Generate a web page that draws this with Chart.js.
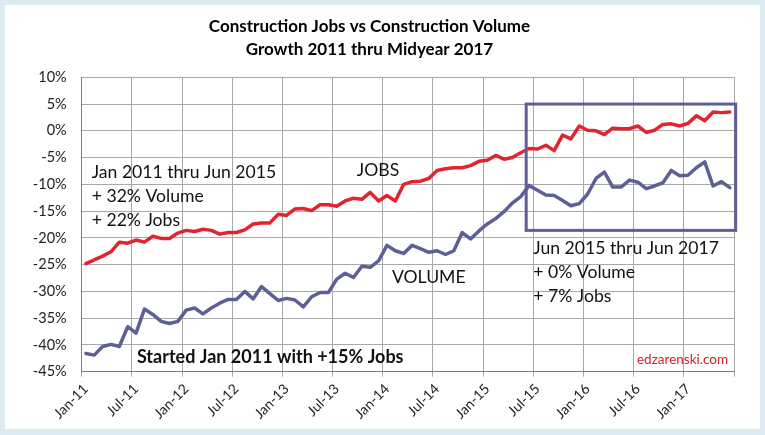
<!DOCTYPE html>
<html>
<head>
<meta charset="utf-8">
<script src="https://cdn.jsdelivr.net/npm/chart.js@4.4.1/dist/chart.umd.min.js"></script>
<style>
  html, body { margin: 0; padding: 0; background: #dcebf2; }
  #wrap { position: absolute; left: 5px; top: 5px; width: 755px; height: 424px; background: #fff; }
</style>
</head>
<body>
<div id="wrap"><canvas id="jobsChart" width="755" height="424"></canvas></div>
<script>
// categorias: meses Jan-11 .. Jun-17
const monthNames = ['Jan', 'Feb', 'Mar', 'Apr', 'May', 'Jun', 'Jul', 'Aug', 'Sep', 'Oct', 'Nov', 'Dec'];
const years = ['11', '12', '13', '14', '15', '16', '17'];
const labels = [];
years.forEach(function(y) {
    monthNames.forEach(function(m) {
        if (labels.length < 78) labels.push(m + '-' + y);
    });
});

// JOBS (rojo) y VOLUME (morado), % de crecimiento
const jobs = [
    -24.8, -24.1, -23.4, -22.6, -20.8, -21.0, -20.4, -20.8, -19.7, -20.1, -20.1, -19.1,
    -18.6, -18.8, -18.4, -18.6, -19.3, -19.0, -19.0, -18.5, -17.4, -17.2, -17.2, -15.6,
    -15.8, -14.6, -14.5, -14.9, -13.8, -13.8, -14.1, -13.1, -12.6, -12.8, -11.5, -13.1,
    -12.1, -13.1, -10.0, -9.5, -9.4, -8.9, -7.4, -7.1, -6.9, -6.9, -6.5, -5.7,
    -5.5, -4.6, -5.3, -5.0, -4.1, -3.3, -3.4, -2.7, -3.7, -0.8, -1.5, 0.9,
    0.1, 0.0, -0.7, 0.5, 0.4, 0.4, 0.9, -0.3, 0.1, 1.2, 1.3, 0.9,
    1.4, 2.8, 1.9, 3.5, 3.4, 3.5
];
const volume = [
    -41.6, -41.9, -40.3, -39.9, -40.3, -36.6, -37.8, -33.3, -34.3, -35.6, -36.0, -35.6,
    -33.5, -33.1, -34.2, -33.1, -32.2, -31.5, -31.5, -30.0, -31.4, -29.1, -30.4, -31.7,
    -31.3, -31.6, -32.9, -31.0, -30.2, -30.2, -27.7, -26.6, -27.4, -25.3, -25.5, -24.3,
    -21.4, -22.4, -22.9, -21.4, -22.0, -22.7, -22.4, -23.1, -22.4, -19.0, -20.2, -18.7,
    -17.4, -16.4, -15.1, -13.5, -12.3, -10.2, -11.1, -12.0, -12.1, -13.0, -14.0, -13.6,
    -11.8, -8.9, -7.7, -10.5, -10.5, -9.2, -9.6, -10.8, -10.3, -9.7, -7.4, -8.4,
    -8.3, -6.9, -5.8, -10.3, -9.5, -10.6
];

// eje Y
const yMin = -45, yMax = 10, yStep = 5;

// notas de texto (posición en índice de mes / valor %)
const notes = [
    { text: 'Jan 2011 thru Jun 2015', x: 0.7, y: -7.8 },
    { text: '+ 32% Volume', x: 0.7, y: -12.3 },
    { text: '+ 22% Jobs', x: 0.7, y: -16.8 },
    { text: 'JOBS', x: 32.4, y: -7.4 },
    { text: 'VOLUME', x: 36.6, y: -27.4 },
    { text: 'Jun 2015 thru Jun 2017', x: 53.5, y: -22.0 },
    { text: '+ 0% Volume', x: 53.5, y: -26.5 },
    { text: '+ 7% Jobs', x: 53.5, y: -30.9 },
    { text: 'Started Jan 2011 with +15% Jobs', x: 6.1, y: -42.2, font: 'bold 18px Lato' },
    { text: 'edzarenski.com', x: 65.9, y: -42.8, font: '13.5px Lato', color: '#d0202a' }
];
const box = { x0: 52.65, x1: 77.7, y0: 5.0, y1: -18.6 };

const notesPlugin = {
    id: 'notes',
    afterDraw(chart) {
        const ctx = chart.ctx;
        const xs = chart.scales.x, ys = chart.scales.y;
        ctx.save();
        // recuadro
        ctx.strokeStyle = '#5f5f98';
        ctx.lineWidth = 3;
        ctx.strokeRect(xs.getPixelForValue(box.x0), ys.getPixelForValue(box.y0),
            xs.getPixelForValue(box.x1) - xs.getPixelForValue(box.x0),
            ys.getPixelForValue(box.y1) - ys.getPixelForValue(box.y0));
        ctx.textBaseline = 'middle';
        ctx.textAlign = 'left';
        notes.forEach(function(n) {
            ctx.font = n.font || '17.6px Lato';
            ctx.fillStyle = n.color || '#111';
            ctx.fillText(n.text, xs.getPixelForValue(n.x), ys.getPixelForValue(n.y));
        });
        ctx.restore();
    }
};

const gridColor = '#a8a8a8';

new Chart(document.getElementById('jobsChart'), {
    type: 'line',
    data: {
        labels: labels,
        datasets: [{
            label: 'JOBS',
            data: jobs,
            borderColor: '#e2242f',
            borderWidth: 3.5,
            pointRadius: 0,
            tension: 0,
            borderJoinStyle: 'round',
            borderCapStyle: 'round'
        }, {
            label: 'VOLUME',
            data: volume,
            borderColor: '#5f5f98',
            borderWidth: 3.5,
            pointRadius: 0,
            tension: 0,
            borderJoinStyle: 'round',
            borderCapStyle: 'round'
        }]
    },
    options: {
        responsive: false,
        animation: false,
        layout: { padding: { left: 0, right: 26, top: 0, bottom: 0 } },
        plugins: {
            legend: { display: false },
            tooltip: { enabled: false },
            title: {
                display: true,
                text: ['Construction Jobs vs Construction Volume', 'Growth 2011 thru Midyear 2017'],
                color: '#000',
                font: { family: 'Lato', size: 17, weight: 'bold', lineHeight: 1.35 },
                padding: { top: 10.5, bottom: 15.9 }
            }
        },
        scales: {
            x: {
                offset: true,
                grid: {
                    offset: true,
                    color: function(c) {
                        return (c.index === undefined || c.index % 6 === 0) ? gridColor : 'rgba(0,0,0,0)';
                    },
                    tickLength: 5
                },
                border: { color: '#7f7f7f' },
                ticks: {
                    autoSkip: false,
                    minRotation: 45,
                    maxRotation: 45,
                    padding: 4,
                    color: '#222',
                    font: { family: 'Lato', size: 14 },
                    callback: function(v, i) { return i % 6 === 0 ? labels[i] : ''; }
                },
                afterFit: function(s) { s.height = 57.3; }
            },
            y: {
                min: yMin,
                max: yMax,
                grid: { color: gridColor, drawTicks: false },
                border: { color: '#7f7f7f' },
                ticks: {
                    stepSize: yStep,
                    padding: 15,
                    color: '#222',
                    font: { family: 'Lato', size: 14.5 },
                    callback: function(v) { return v + '%'; }
                },
                afterFit: function(s) { s.width = 76.7; }
            }
        }
    },
    plugins: [notesPlugin]
});
</script>
</body>
</html>
